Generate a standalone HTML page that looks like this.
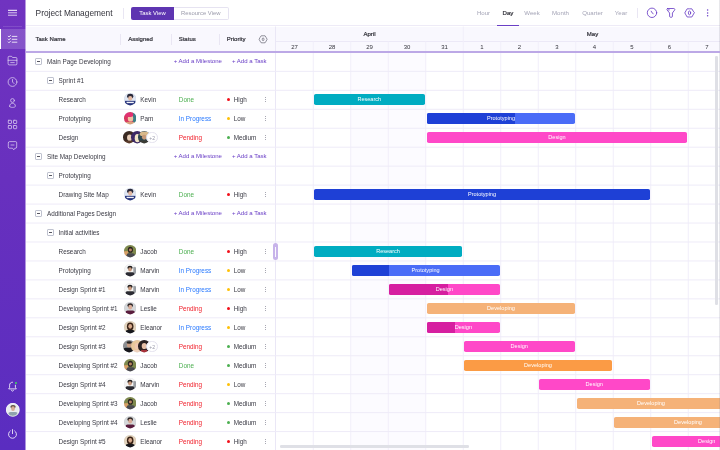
<!DOCTYPE html>
<html lang="en"><head><meta charset="utf-8"><title>Project Management</title>
<style>
*{box-sizing:border-box;margin:0;padding:0}
html,body{width:720px;height:450px;overflow:hidden;background:#fff}
body{font-family:"Liberation Sans",sans-serif;color:#3a3a44;position:relative;font-size:6.35px;line-height:1}
.abs{position:absolute}
#side{position:absolute;left:0;top:0;width:26px;height:450px;background:linear-gradient(90deg,rgba(255,255,255,0) 25px,rgba(255,255,255,.5) 25px),linear-gradient(180deg,#7033c0 0%,#6830be 40%,#5a2dc0 100%)}
#side .act{position:absolute;left:0;top:29.4px;width:26px;height:20px;background:linear-gradient(90deg,#fff 1.2px,rgba(255,255,255,.16) 1.2px)}
#top{position:absolute;left:25.5px;top:0;width:694.5px;height:26px;background:#fff;border-bottom:1px solid #eeebf7}
#title{position:absolute;left:35.6px;top:8.7px;font-size:8.35px;color:#34343c;white-space:nowrap}
.vdiv{position:absolute;width:1px;background:#e9e6f3}
#tv{position:absolute;left:131px;top:6.5px;width:43px;height:13px;background:#5e35b1;color:#fff;border-radius:2px 0 0 2px;font-size:5.9px;text-align:center;line-height:13px}
#rv{position:absolute;left:174px;top:6.5px;width:54.5px;height:13px;background:#fff;color:#9b9bab;border:1px solid #e6e3f1;border-left:none;border-radius:0 2px 2px 0;font-size:5.9px;text-align:center;line-height:11.5px}
.zoom{position:absolute;top:10px;font-size:6.1px;color:#a4a4b6;white-space:nowrap;transform:translateX(-50%)}
.zoom.on{color:#34343c;-webkit-text-stroke:.22px #34343c}
#dayline{position:absolute;left:497.2px;top:24.7px;width:21.6px;height:1.8px;background:#6a3fc6}
#thead{position:absolute;left:25.5px;top:26.5px;width:694.5px;height:24.5px;background:#f9f8fe}
#pline{position:absolute;left:25.5px;top:51px;width:694.5px;height:2px;background:#bca8e6}
.th{position:absolute;top:35.8px;font-weight:400;font-size:6.02px;color:#34343c;white-space:nowrap;-webkit-text-stroke:.22px #34343c}
.row{position:absolute;left:25.5px;width:250px;height:19px}
.grow{display:none}
.tx{position:absolute;white-space:nowrap;top:7.1px}
.box{position:absolute;width:7px;height:6.6px;border:.8px solid #bfc2cf;border-radius:1px;top:6.2px;background:#fff}
.box:after{content:"";position:absolute;left:1.1px;right:1.1px;top:2.1px;height:.75px;background:#55555f}
.add{position:absolute;top:6.4px;font-size:6.05px;color:#6a3fc6;white-space:nowrap}
.av{position:absolute}
.done{color:#4caf50}.prog{color:#2979ff}.pend{color:#f0202b}
.dot{position:absolute;top:8px;width:3px;height:3px;border-radius:50%}
.ph{background:#f2101a}.pl{background:#ffc107}.pm{background:#4caf50}
.keb{position:absolute;top:7.1px;width:1px;height:6px}
.keb i{position:absolute;left:0;width:1.2px;height:1.2px;border-radius:50%;background:#8c8c9a}
.plus{position:absolute;width:11.8px;height:11.8px;border-radius:50%;background:#fff;border:.6px solid #e4e2ee;color:#9a9aaa;font-size:5.2px;text-align:center;line-height:10.8px}
.vl{position:absolute;top:26.5px;width:1px;height:424px;background:#ece9f7}
.bar{position:absolute;height:11px;border-radius:1.8px;overflow:hidden;color:#fff;font-size:5.55px;text-align:center;line-height:11.6px;white-space:nowrap}
.bar .pg{position:absolute;left:0;top:0;bottom:0}
.bar span{position:relative}
.teal{background:#00acc1}.blue{background:#4a6cf7}.blue .pg{background:#1e40d6}.bluedark{background:#1e40d6}
.pink{background:#ff48c8}.pink .pg{background:#d61fa0}.orange{background:#f5b278}.orange2{background:#fb9b45}
.mon{position:absolute;top:31px;font-weight:400;font-size:6.02px;color:#34343c;transform:translateX(-50%);-webkit-text-stroke:.22px #34343c}
.day{position:absolute;top:43.6px;font-size:6px;color:#34343c;transform:translateX(-50%)}
</style></head><body>

<svg width="0" height="0" style="position:absolute"><defs><clipPath id="cc"><circle cx="6" cy="6" r="6"/></clipPath><filter id="bl" x="-20%" y="-20%" width="140%" height="140%"><feGaussianBlur stdDeviation="0.45"/></filter></defs></svg>
<div id="side"><div class="act"></div><div class="abs" style="left:3px;top:26px;width:19px;height:1px;background:rgba(255,255,255,.13)"></div>
<svg class="abs" style="left:0;top:0" width="26" height="450" viewBox="0 0 26 450" fill="none" stroke="#fff" stroke-width="0.8" stroke-linecap="round" stroke-linejoin="round">
<g stroke-width="1" stroke-linecap="butt"><path d="M8 10.3h9"/><path d="M8 12.8h9M8 15.2h9" opacity=".75"/></g>
<g><path d="M8.2 36.2l.8.8 1.5-1.6M8.2 39.1l.8.8 1.5-1.6M8.2 42l.8.8 1.5-1.6M12.2 36.4h4.7M12.2 39.3h4.7M12.2 42.2h4.7"/></g>
<g opacity=".72"><path d="M8.1 57.3a1 1 0 0 1 1-1h2.5l1 1.2H15.9a1 1 0 0 1 1 1v5.4a1 1 0 0 1-1 1H9.1a1 1 0 0 1-1-1zM8.1 60.3h8.8M10.7 62.6h3.6"/></g>
<g opacity=".72"><circle cx="12.5" cy="82" r="4.4"/><path d="M12.5 79.5V82l1.6 1.6"/></g>
<g opacity=".72"><circle cx="12.5" cy="100.5" r="1.9"/><path d="M9.6 106.2c0-1.9 1.3-2.9 2.9-2.9s2.9 1 2.9 2.9c0 .8-1.3 1.2-2.9 1.2s-2.9-.4-2.9-1.2z"/></g>
<g opacity=".72"><rect x="8.3" y="120.3" width="3.2" height="3.2" rx=".5"/><rect x="13.5" y="120.3" width="3.2" height="3.2" rx=".5"/><rect x="8.3" y="125.5" width="3.2" height="3.2" rx=".5"/><rect x="13.5" y="125.5" width="3.2" height="3.2" rx=".5"/></g>
<g opacity=".72"><path d="M8.3 142.8a1.2 1.2 0 0 1 1.2-1.2h6a1.2 1.2 0 0 1 1.2 1.2v4.2a1.2 1.2 0 0 1-1.2 1.2h-.6l-1.1 1.6-1.3-1.6H9.5a1.2 1.2 0 0 1-1.2-1.2zM11 145h3"/></g>
<g><path d="M12.5 382.2c-1.8 0-2.9 1.3-2.9 3v2.2l-.9 1.5h7.6l-.9-1.5v-2.2M11.4 390.2c.2.6.6.9 1.1.9s.9-.3 1.1-.9"/></g>
<g><path d="M12.5 429.6v4M10.3 430.9a4 4 0 1 0 4.4 0"/></g>
</svg>
<div class="abs" style="left:14.6px;top:382.2px;width:2.2px;height:2.2px;border-radius:50%;background:#3ddc5a"></div>
<svg class="abs" style="left:6.2px;top:403.3px" width="13.6" height="13.6" viewBox="0 0 12 12"><g clip-path="url(#cc)"><rect width="12" height="12" fill="#e9ecef"/><ellipse cx="6.2" cy="3.4" rx="2.3" ry="1.7" fill="#5b4a40"/><ellipse cx="6.2" cy="5" rx="1.7" ry="2.1" fill="#d8ae96"/><rect x="2" y="8" width="8.4" height="10" rx="2" fill="#8fa3ad"/></g><circle cx="6" cy="6" r="5.7" fill="none" stroke="#fff" stroke-width=".6"/></svg>
</div>
<div id="top"></div>
<div id="title">Project Management</div>
<div class="vdiv" style="left:122.5px;top:7.5px;height:11px"></div>
<div id="tv">Task View</div><div id="rv">Resource View</div>
<div class="zoom" style="left:483.5px">Hour</div>
<div class="zoom on" style="left:508px">Day</div>
<div class="zoom" style="left:532px">Week</div>
<div class="zoom" style="left:560.5px">Month</div>
<div class="zoom" style="left:592.5px">Quarter</div>
<div class="zoom" style="left:621px">Year</div>
<div id="dayline"></div>
<div class="vdiv" style="left:637px;top:7.5px;height:10.5px"></div>
<svg class="abs" style="left:640px;top:4px" width="80" height="18" viewBox="640 4 80 18" fill="none" stroke="#6a3fc6" stroke-width="0.85" stroke-linecap="round" stroke-linejoin="round">
<circle cx="652" cy="12.8" r="4.7"/><path d="M651.2 11.2L652 12.8L653.2 13.6"/>
<path d="M667.6 8.5h6.2c.9 0 1.3.9.8 1.6l-2.2 2.9v3.3c0 .7-.5 1-1.1 1h-.6c-.6 0-1.1-.4-1.1-1V13l-2.4-2.9c-.6-.7-.3-1.6.4-1.6zM668.3 9.9h1"/>
<path d="M694.20 12.90 L693.05 14.95 L691.85 16.97 L689.50 17.00 L687.15 16.97 L685.95 14.95 L684.80 12.90 L685.95 10.85 L687.15 8.83 L689.50 8.80 L691.85 8.83 L693.05 10.85z"/><ellipse cx="689.5" cy="12.9" rx="1.15" ry="1.9"/>
<g fill="#6a3fc6" stroke="none"><circle cx="707.6" cy="10" r=".75"/><circle cx="707.6" cy="12.9" r=".75"/><circle cx="707.6" cy="15.8" r=".75"/></g>
</svg>
<div id="thead"></div>
<div class="th" style="left:35.5px">Task Name</div>
<div class="th" style="left:128.2px">Assigned</div>
<div class="th" style="left:178.7px">Status</div>
<div class="th" style="left:226.7px">Priority</div>
<div class="vdiv" style="left:120.3px;top:33.8px;height:11.5px"></div>
<div class="vdiv" style="left:170.8px;top:33.8px;height:11.5px"></div>
<div class="vdiv" style="left:219px;top:33.8px;height:11.5px"></div>
<svg class="abs" style="left:258px;top:34px" width="10" height="10" viewBox="0 0 10 10" fill="none" stroke="#6d6d7a" stroke-width=".75" stroke-linejoin="round"><path d="M9.10 5.30 L8.17 7.07 L7.10 8.76 L5.10 8.85 L3.10 8.76 L2.03 7.07 L1.10 5.30 L2.03 3.52 L3.10 1.84 L5.10 1.75 L7.10 1.84 L8.17 3.52z"/><ellipse cx="5.1" cy="5.3" rx=".9" ry="1.4"/></svg>
<div class="abs" style="left:275.5px;top:41px;width:444.5px;height:1px;background:#ece9f7"></div>
<div class="mon" style="left:369.5px">April</div><div class="mon" style="left:592.5px">May</div>
<div class="day" style="left:294.50px">27</div>
<div class="day" style="left:332.00px">28</div>
<div class="day" style="left:369.50px">29</div>
<div class="day" style="left:407.00px">30</div>
<div class="day" style="left:444.50px">31</div>
<div class="day" style="left:482.00px">1</div>
<div class="day" style="left:519.50px">2</div>
<div class="day" style="left:557.00px">3</div>
<div class="day" style="left:594.50px">4</div>
<div class="day" style="left:632.00px">5</div>
<div class="day" style="left:669.50px">6</div>
<div class="day" style="left:707.00px">7</div>
<div class="abs" style="left:350.5px;top:53px;width:75px;height:397px;background:#fcfbff"></div>
<svg class="abs" style="left:0;top:0" width="720" height="450" viewBox="0 0 720 450"><rect x="275" y="26.5" width="1" height="424" fill="#eae7f6"/><rect x="312.75" y="41.5" width="1" height="409" fill="#f1eefa"/><rect x="350.25" y="41.5" width="1" height="409" fill="#f1eefa"/><rect x="387.75" y="41.5" width="1" height="409" fill="#f1eefa"/><rect x="425.25" y="41.5" width="1" height="409" fill="#f1eefa"/><rect x="462.75" y="26.5" width="1" height="424" fill="#f1eefa"/><rect x="500.25" y="41.5" width="1" height="409" fill="#f1eefa"/><rect x="537.75" y="41.5" width="1" height="409" fill="#f1eefa"/><rect x="575.25" y="41.5" width="1" height="409" fill="#f1eefa"/><rect x="612.75" y="41.5" width="1" height="409" fill="#f1eefa"/><rect x="650.25" y="41.5" width="1" height="409" fill="#f1eefa"/><rect x="687.75" y="41.5" width="1" height="409" fill="#f1eefa"/><rect x="725.25" y="41.5" width="1" height="409" fill="#f1eefa"/><rect x="26" y="70.85" width="694" height="1" fill="#eeebf8"/><rect x="26" y="89.81" width="694" height="1" fill="#eeebf8"/><rect x="26" y="108.77" width="694" height="1" fill="#eeebf8"/><rect x="26" y="127.73" width="694" height="1" fill="#eeebf8"/><rect x="26" y="146.69" width="694" height="1" fill="#eeebf8"/><rect x="26" y="165.65" width="694" height="1" fill="#eeebf8"/><rect x="26" y="184.61" width="694" height="1" fill="#eeebf8"/><rect x="26" y="203.57" width="694" height="1" fill="#eeebf8"/><rect x="26" y="222.53" width="694" height="1" fill="#eeebf8"/><rect x="26" y="241.49" width="694" height="1" fill="#eeebf8"/><rect x="26" y="260.45" width="694" height="1" fill="#eeebf8"/><rect x="26" y="279.41" width="694" height="1" fill="#eeebf8"/><rect x="26" y="298.37" width="694" height="1" fill="#eeebf8"/><rect x="26" y="317.33" width="694" height="1" fill="#eeebf8"/><rect x="26" y="336.29" width="694" height="1" fill="#eeebf8"/><rect x="26" y="355.25" width="694" height="1" fill="#eeebf8"/><rect x="26" y="374.21" width="694" height="1" fill="#eeebf8"/><rect x="26" y="393.17" width="694" height="1" fill="#eeebf8"/><rect x="26" y="412.13" width="694" height="1" fill="#eeebf8"/><rect x="26" y="431.09" width="694" height="1" fill="#eeebf8"/></svg>
<div class="row" style="top:52px">
<div class="box" style="left:9.5px"></div><div class="tx" style="left:21.5px">Main Page Developing</div>
<div class="add" style="left:148.2px">+ Add a Milestone</div><div class="add" style="left:206.4px">+ Add a Task</div>
</div>
<div class="row" style="top:71px">
<div class="box" style="left:21.3px"></div><div class="tx" style="left:33.1px">Sprint #1</div>
</div>
<div class="row" style="top:90px">
<div class="tx" style="left:33.1px">Research</div>
<svg class="av" style="left:98.0px;top:3.3px" width="12.4" height="12.4" viewBox="0 0 12 12"><g clip-path="url(#cc)"><g filter="url(#bl)"><rect x="-4" y="-4" width="20" height="20" fill="#dfe6f3"/><ellipse cx="6" cy="3.2" rx="3" ry="2.4" fill="#2b2a3a"/><ellipse cx="6" cy="5.2" rx="2" ry="2.3" fill="#e3b9a3"/><rect x="1" y="7.6" width="10" height="10" fill="#27347c"/><rect x="2.5" y="8.5" width="7" height="1.3" fill="#f1f3fa"/></g></g><circle cx="6" cy="6" r="5.85" fill="none" stroke="rgba(60,60,90,.13)" stroke-width=".3"/></svg>
<div class="tx" style="left:114.8px">Kevin</div>
<div class="tx done" style="left:153.3px">Done</div>
<div class="dot ph" style="left:201.0px"></div><div class="tx" style="left:208.2px">High</div>
<div class="keb" style="left:239.8px"><i style="top:0"></i><i style="top:1.9px"></i><i style="top:3.8px"></i></div>
</div>
<div class="row" style="top:109px">
<div class="tx" style="left:33.1px">Prototyping</div>
<svg class="av" style="left:98.0px;top:3.3px" width="12.4" height="12.4" viewBox="0 0 12 12"><g clip-path="url(#cc)"><g filter="url(#bl)"><rect x="-4" y="-4" width="20" height="20" fill="#d8395f"/><rect x="8.5" width="4" height="12" fill="#3a7f86"/><ellipse cx="6.3" cy="6.2" rx="2.6" ry="3.1" fill="#f0c3a4"/><ellipse cx="5" cy="2.6" rx="4" ry="2.2" fill="#e23372"/><rect x="2" y="9.6" width="8" height="10" fill="#d9a27c"/></g></g><circle cx="6" cy="6" r="5.85" fill="none" stroke="rgba(60,60,90,.13)" stroke-width=".3"/></svg>
<div class="tx" style="left:114.8px">Pam</div>
<div class="tx prog" style="left:153.3px">In Progress</div>
<div class="dot pl" style="left:201.0px"></div><div class="tx" style="left:208.2px">Low</div>
<div class="keb" style="left:239.8px"><i style="top:0"></i><i style="top:1.9px"></i><i style="top:3.8px"></i></div>
</div>
<div class="row" style="top:128px">
<div class="tx" style="left:33.1px">Design</div>
<svg class="av" style="left:97.8px;top:3.3px" width="12.4" height="12.4" viewBox="0 0 12 12"><g clip-path="url(#cc)"><g filter="url(#bl)"><rect x="-4" y="-4" width="20" height="20" fill="#3a2a22"/><ellipse cx="6.5" cy="6.5" rx="2.6" ry="3" fill="#e8cdb8"/><rect x="0" y="9.5" width="12" height="10" fill="#5a3b2c"/></g></g><circle cx="6" cy="6" r="5.85" fill="none" stroke="rgba(60,60,90,.13)" stroke-width=".3"/></svg>
<svg class="av" style="left:105.19999999999999px;top:3.3px" width="12.4" height="12.4" viewBox="0 0 12 12"><g clip-path="url(#cc)"><g filter="url(#bl)"><rect x="-4" y="-4" width="20" height="20" fill="#3c2a66"/><ellipse cx="6.2" cy="7" rx="2.6" ry="4" fill="#f3e6c8"/></g></g><circle cx="6" cy="6" r="5.85" fill="none" stroke="rgba(60,60,90,.13)" stroke-width=".3"/></svg>
<svg class="av" style="left:112.6px;top:3.3px" width="12.4" height="12.4" viewBox="0 0 12 12"><g clip-path="url(#cc)"><g filter="url(#bl)"><rect x="-4" y="-4" width="20" height="20" fill="#2e4a52"/><ellipse cx="6" cy="3" rx="4.5" ry="2.4" fill="#d8b98a"/><ellipse cx="6" cy="6" rx="2.2" ry="2.4" fill="#c79a78"/><rect x="1" y="9" width="10" height="10" fill="#3b3a36"/></g></g><circle cx="6" cy="6" r="5.85" fill="none" stroke="rgba(60,60,90,.13)" stroke-width=".3"/></svg>
<div class="plus" style="left:120.8px;top:3.6px">+2</div>
<div class="tx pend" style="left:153.3px">Pending</div>
<div class="dot pm" style="left:201.0px"></div><div class="tx" style="left:208.2px">Medium</div>
<div class="keb" style="left:239.8px"><i style="top:0"></i><i style="top:1.9px"></i><i style="top:3.8px"></i></div>
</div>
<div class="row" style="top:147px">
<div class="box" style="left:9.5px"></div><div class="tx" style="left:21.5px">Site Map Developing</div>
<div class="add" style="left:148.2px">+ Add a Milestone</div><div class="add" style="left:206.4px">+ Add a Task</div>
</div>
<div class="row" style="top:166px">
<div class="box" style="left:21.3px"></div><div class="tx" style="left:33.1px">Prototyping</div>
</div>
<div class="row" style="top:185px">
<div class="tx" style="left:33.1px">Drawing Site Map</div>
<svg class="av" style="left:98.0px;top:3.3px" width="12.4" height="12.4" viewBox="0 0 12 12"><g clip-path="url(#cc)"><g filter="url(#bl)"><rect x="-4" y="-4" width="20" height="20" fill="#dfe6f3"/><ellipse cx="6" cy="3.2" rx="3" ry="2.4" fill="#2b2a3a"/><ellipse cx="6" cy="5.2" rx="2" ry="2.3" fill="#e3b9a3"/><rect x="1" y="7.6" width="10" height="10" fill="#27347c"/><rect x="2.5" y="8.5" width="7" height="1.3" fill="#f1f3fa"/></g></g><circle cx="6" cy="6" r="5.85" fill="none" stroke="rgba(60,60,90,.13)" stroke-width=".3"/></svg>
<div class="tx" style="left:114.8px">Kevin</div>
<div class="tx done" style="left:153.3px">Done</div>
<div class="dot ph" style="left:201.0px"></div><div class="tx" style="left:208.2px">High</div>
<div class="keb" style="left:239.8px"><i style="top:0"></i><i style="top:1.9px"></i><i style="top:3.8px"></i></div>
</div>
<div class="row" style="top:204px">
<div class="box" style="left:9.5px"></div><div class="tx" style="left:21.5px">Additional Pages Design</div>
<div class="add" style="left:148.2px">+ Add a Milestone</div><div class="add" style="left:206.4px">+ Add a Task</div>
</div>
<div class="row" style="top:223px">
<div class="box" style="left:21.3px"></div><div class="tx" style="left:33.1px">Initial activities</div>
</div>
<div class="row" style="top:242px">
<div class="tx" style="left:33.1px">Research</div>
<svg class="av" style="left:98.0px;top:3.3px" width="12.4" height="12.4" viewBox="0 0 12 12"><g clip-path="url(#cc)"><g filter="url(#bl)"><rect x="-4" y="-4" width="20" height="20" fill="#7f8a4e"/><rect y="6" width="4" height="6" fill="#d9a066"/><ellipse cx="6.2" cy="4.6" rx="2.5" ry="3" fill="#2a231f"/><ellipse cx="6.2" cy="4.8" rx="1.5" ry="1.4" fill="#b98565"/><rect x="2.5" y="8" width="8" height="10" rx="2" fill="#4a4a4f"/></g></g><circle cx="6" cy="6" r="5.85" fill="none" stroke="rgba(60,60,90,.13)" stroke-width=".3"/></svg>
<div class="tx" style="left:114.8px">Jacob</div>
<div class="tx done" style="left:153.3px">Done</div>
<div class="dot ph" style="left:201.0px"></div><div class="tx" style="left:208.2px">High</div>
<div class="keb" style="left:239.8px"><i style="top:0"></i><i style="top:1.9px"></i><i style="top:3.8px"></i></div>
</div>
<div class="row" style="top:261px">
<div class="tx" style="left:33.1px">Prototyping</div>
<svg class="av" style="left:98.0px;top:3.3px" width="12.4" height="12.4" viewBox="0 0 12 12"><g clip-path="url(#cc)"><g filter="url(#bl)"><rect x="-4" y="-4" width="20" height="20" fill="#f4f4f4"/><rect x="9" y="3" width="3" height="9" fill="#9a9ea3"/><ellipse cx="5.8" cy="3.6" rx="2.5" ry="2" fill="#1f1d1d"/><ellipse cx="5.8" cy="5.2" rx="1.8" ry="2.1" fill="#c99b80"/><rect x="1.5" y="8" width="8.5" height="10" rx="1.5" fill="#2a2b30"/></g></g><circle cx="6" cy="6" r="5.85" fill="none" stroke="rgba(60,60,90,.13)" stroke-width=".3"/></svg>
<div class="tx" style="left:114.8px">Marvin</div>
<div class="tx prog" style="left:153.3px">In Progress</div>
<div class="dot pl" style="left:201.0px"></div><div class="tx" style="left:208.2px">Low</div>
<div class="keb" style="left:239.8px"><i style="top:0"></i><i style="top:1.9px"></i><i style="top:3.8px"></i></div>
</div>
<div class="row" style="top:280px">
<div class="tx" style="left:33.1px">Design Sprint #1</div>
<svg class="av" style="left:98.0px;top:3.3px" width="12.4" height="12.4" viewBox="0 0 12 12"><g clip-path="url(#cc)"><g filter="url(#bl)"><rect x="-4" y="-4" width="20" height="20" fill="#f4f4f4"/><rect x="9" y="3" width="3" height="9" fill="#9a9ea3"/><ellipse cx="5.8" cy="3.6" rx="2.5" ry="2" fill="#1f1d1d"/><ellipse cx="5.8" cy="5.2" rx="1.8" ry="2.1" fill="#c99b80"/><rect x="1.5" y="8" width="8.5" height="10" rx="1.5" fill="#2a2b30"/></g></g><circle cx="6" cy="6" r="5.85" fill="none" stroke="rgba(60,60,90,.13)" stroke-width=".3"/></svg>
<div class="tx" style="left:114.8px">Marvin</div>
<div class="tx prog" style="left:153.3px">In Progress</div>
<div class="dot pl" style="left:201.0px"></div><div class="tx" style="left:208.2px">Low</div>
<div class="keb" style="left:239.8px"><i style="top:0"></i><i style="top:1.9px"></i><i style="top:3.8px"></i></div>
</div>
<div class="row" style="top:299px">
<div class="tx" style="left:33.1px">Developing Sprint #1</div>
<svg class="av" style="left:98.0px;top:3.3px" width="12.4" height="12.4" viewBox="0 0 12 12"><g clip-path="url(#cc)"><g filter="url(#bl)"><rect x="-4" y="-4" width="20" height="20" fill="#d5d8da"/><ellipse cx="6" cy="3.2" rx="2.6" ry="2.1" fill="#2a2424"/><ellipse cx="6" cy="5" rx="1.9" ry="2.3" fill="#d9ad98"/><rect x="1.5" y="8.2" width="9" height="10" rx="2" fill="#5a1f3c"/></g></g><circle cx="6" cy="6" r="5.85" fill="none" stroke="rgba(60,60,90,.13)" stroke-width=".3"/></svg>
<div class="tx" style="left:114.8px">Leslie</div>
<div class="tx pend" style="left:153.3px">Pending</div>
<div class="dot ph" style="left:201.0px"></div><div class="tx" style="left:208.2px">High</div>
<div class="keb" style="left:239.8px"><i style="top:0"></i><i style="top:1.9px"></i><i style="top:3.8px"></i></div>
</div>
<div class="row" style="top:318px">
<div class="tx" style="left:33.1px">Design Sprint #2</div>
<svg class="av" style="left:98.0px;top:3.3px" width="12.4" height="12.4" viewBox="0 0 12 12"><g clip-path="url(#cc)"><g filter="url(#bl)"><rect x="-4" y="-4" width="20" height="20" fill="#e2d3bd"/><ellipse cx="6" cy="5.4" rx="3.2" ry="4" fill="#3a2418"/><ellipse cx="6" cy="5.2" rx="1.8" ry="2.2" fill="#d7a98c"/><rect x="1.5" y="8.8" width="9" height="10" rx="2" fill="#17171a"/></g></g><circle cx="6" cy="6" r="5.85" fill="none" stroke="rgba(60,60,90,.13)" stroke-width=".3"/></svg>
<div class="tx" style="left:114.8px">Eleanor</div>
<div class="tx prog" style="left:153.3px">In Progress</div>
<div class="dot pl" style="left:201.0px"></div><div class="tx" style="left:208.2px">Low</div>
<div class="keb" style="left:239.8px"><i style="top:0"></i><i style="top:1.9px"></i><i style="top:3.8px"></i></div>
</div>
<div class="row" style="top:337px">
<div class="tx" style="left:33.1px">Design Sprint #3</div>
<svg class="av" style="left:97.8px;top:3.3px" width="12.4" height="12.4" viewBox="0 0 12 12"><g clip-path="url(#cc)"><g filter="url(#bl)"><rect x="-4" y="-4" width="20" height="20" fill="#8d8f92"/><ellipse cx="6" cy="4.6" rx="2.3" ry="2.8" fill="#c79c83"/><rect x="0.5" y="7.6" width="11" height="10" rx="2" fill="#17181b"/><ellipse cx="6" cy="2.4" rx="2.5" ry="1.3" fill="#2a2522"/></g></g><circle cx="6" cy="6" r="5.85" fill="none" stroke="rgba(60,60,90,.13)" stroke-width=".3"/></svg>
<svg class="av" style="left:105.19999999999999px;top:3.3px" width="12.4" height="12.4" viewBox="0 0 12 12"><g clip-path="url(#cc)"><g filter="url(#bl)"><rect x="-4" y="-4" width="20" height="20" fill="#e8c89a"/><ellipse cx="6" cy="6" rx="2.4" ry="3.2" fill="#f0c9ae"/><rect x="2" y="9.6" width="8" height="10" fill="#efd2bd"/></g></g><circle cx="6" cy="6" r="5.85" fill="none" stroke="rgba(60,60,90,.13)" stroke-width=".3"/></svg>
<svg class="av" style="left:112.6px;top:3.3px" width="12.4" height="12.4" viewBox="0 0 12 12"><g clip-path="url(#cc)"><g filter="url(#bl)"><rect x="-4" y="-4" width="20" height="20" fill="#2b2322"/><ellipse cx="6" cy="5.8" rx="2.4" ry="3" fill="#e6bfa6"/><rect x="3" y="9.6" width="6" height="10" fill="#a8323a"/></g></g><circle cx="6" cy="6" r="5.85" fill="none" stroke="rgba(60,60,90,.13)" stroke-width=".3"/></svg>
<div class="plus" style="left:120.8px;top:3.6px">+2</div>
<div class="tx pend" style="left:153.3px">Pending</div>
<div class="dot pm" style="left:201.0px"></div><div class="tx" style="left:208.2px">Medium</div>
<div class="keb" style="left:239.8px"><i style="top:0"></i><i style="top:1.9px"></i><i style="top:3.8px"></i></div>
</div>
<div class="row" style="top:356px">
<div class="tx" style="left:33.1px">Developing Sprint #2</div>
<svg class="av" style="left:98.0px;top:3.3px" width="12.4" height="12.4" viewBox="0 0 12 12"><g clip-path="url(#cc)"><g filter="url(#bl)"><rect x="-4" y="-4" width="20" height="20" fill="#7f8a4e"/><rect y="6" width="4" height="6" fill="#d9a066"/><ellipse cx="6.2" cy="4.6" rx="2.5" ry="3" fill="#2a231f"/><ellipse cx="6.2" cy="4.8" rx="1.5" ry="1.4" fill="#b98565"/><rect x="2.5" y="8" width="8" height="10" rx="2" fill="#4a4a4f"/></g></g><circle cx="6" cy="6" r="5.85" fill="none" stroke="rgba(60,60,90,.13)" stroke-width=".3"/></svg>
<div class="tx" style="left:114.8px">Jacob</div>
<div class="tx done" style="left:153.3px">Done</div>
<div class="dot pm" style="left:201.0px"></div><div class="tx" style="left:208.2px">Medium</div>
<div class="keb" style="left:239.8px"><i style="top:0"></i><i style="top:1.9px"></i><i style="top:3.8px"></i></div>
</div>
<div class="row" style="top:375px">
<div class="tx" style="left:33.1px">Design Sprint #4</div>
<svg class="av" style="left:98.0px;top:3.3px" width="12.4" height="12.4" viewBox="0 0 12 12"><g clip-path="url(#cc)"><g filter="url(#bl)"><rect x="-4" y="-4" width="20" height="20" fill="#f4f4f4"/><rect x="9" y="3" width="3" height="9" fill="#9a9ea3"/><ellipse cx="5.8" cy="3.6" rx="2.5" ry="2" fill="#1f1d1d"/><ellipse cx="5.8" cy="5.2" rx="1.8" ry="2.1" fill="#c99b80"/><rect x="1.5" y="8" width="8.5" height="10" rx="1.5" fill="#2a2b30"/></g></g><circle cx="6" cy="6" r="5.85" fill="none" stroke="rgba(60,60,90,.13)" stroke-width=".3"/></svg>
<div class="tx" style="left:114.8px">Marvin</div>
<div class="tx pend" style="left:153.3px">Pending</div>
<div class="dot pl" style="left:201.0px"></div><div class="tx" style="left:208.2px">Low</div>
<div class="keb" style="left:239.8px"><i style="top:0"></i><i style="top:1.9px"></i><i style="top:3.8px"></i></div>
</div>
<div class="row" style="top:394px">
<div class="tx" style="left:33.1px">Developing Sprint #3</div>
<svg class="av" style="left:98.0px;top:3.3px" width="12.4" height="12.4" viewBox="0 0 12 12"><g clip-path="url(#cc)"><g filter="url(#bl)"><rect x="-4" y="-4" width="20" height="20" fill="#7f8a4e"/><rect y="6" width="4" height="6" fill="#d9a066"/><ellipse cx="6.2" cy="4.6" rx="2.5" ry="3" fill="#2a231f"/><ellipse cx="6.2" cy="4.8" rx="1.5" ry="1.4" fill="#b98565"/><rect x="2.5" y="8" width="8" height="10" rx="2" fill="#4a4a4f"/></g></g><circle cx="6" cy="6" r="5.85" fill="none" stroke="rgba(60,60,90,.13)" stroke-width=".3"/></svg>
<div class="tx" style="left:114.8px">Jacob</div>
<div class="tx pend" style="left:153.3px">Pending</div>
<div class="dot pm" style="left:201.0px"></div><div class="tx" style="left:208.2px">Medium</div>
<div class="keb" style="left:239.8px"><i style="top:0"></i><i style="top:1.9px"></i><i style="top:3.8px"></i></div>
</div>
<div class="row" style="top:413px">
<div class="tx" style="left:33.1px">Developing Sprint #4</div>
<svg class="av" style="left:98.0px;top:3.3px" width="12.4" height="12.4" viewBox="0 0 12 12"><g clip-path="url(#cc)"><g filter="url(#bl)"><rect x="-4" y="-4" width="20" height="20" fill="#d5d8da"/><ellipse cx="6" cy="3.2" rx="2.6" ry="2.1" fill="#2a2424"/><ellipse cx="6" cy="5" rx="1.9" ry="2.3" fill="#d9ad98"/><rect x="1.5" y="8.2" width="9" height="10" rx="2" fill="#5a1f3c"/></g></g><circle cx="6" cy="6" r="5.85" fill="none" stroke="rgba(60,60,90,.13)" stroke-width=".3"/></svg>
<div class="tx" style="left:114.8px">Leslie</div>
<div class="tx pend" style="left:153.3px">Pending</div>
<div class="dot pm" style="left:201.0px"></div><div class="tx" style="left:208.2px">Medium</div>
<div class="keb" style="left:239.8px"><i style="top:0"></i><i style="top:1.9px"></i><i style="top:3.8px"></i></div>
</div>
<div class="row" style="top:432px">
<div class="tx" style="left:33.1px">Design Sprint #5</div>
<svg class="av" style="left:98.0px;top:3.3px" width="12.4" height="12.4" viewBox="0 0 12 12"><g clip-path="url(#cc)"><g filter="url(#bl)"><rect x="-4" y="-4" width="20" height="20" fill="#e2d3bd"/><ellipse cx="6" cy="5.4" rx="3.2" ry="4" fill="#3a2418"/><ellipse cx="6" cy="5.2" rx="1.8" ry="2.2" fill="#d7a98c"/><rect x="1.5" y="8.8" width="9" height="10" rx="2" fill="#17171a"/></g></g><circle cx="6" cy="6" r="5.85" fill="none" stroke="rgba(60,60,90,.13)" stroke-width=".3"/></svg>
<div class="tx" style="left:114.8px">Eleanor</div>
<div class="tx pend" style="left:153.3px">Pending</div>
<div class="dot ph" style="left:201.0px"></div><div class="tx" style="left:208.2px">High</div>
<div class="keb" style="left:239.8px"><i style="top:0"></i><i style="top:1.9px"></i><i style="top:3.8px"></i></div>
</div>
<div class="bar teal" style="left:314px;top:94px;width:110.5px"><span>Research</span></div>
<div class="bar blue" style="left:427px;top:113px;width:148.0px"><div class="pg" style="width:88.0px"></div><span>Prototyping</span></div>
<div class="bar pink" style="left:427px;top:132px;width:260.0px"><span>Design</span></div>
<div class="bar bluedark" style="left:314px;top:189px;width:336.0px"><span>Prototyping</span></div>
<div class="bar teal" style="left:314px;top:246px;width:148.0px"><span>Research</span></div>
<div class="bar blue" style="left:351.5px;top:265px;width:148.2px"><div class="pg" style="width:37.5px"></div><span>Prototyping</span></div>
<div class="bar pink" style="left:389px;top:284px;width:110.7px"><div class="pg" style="width:59.0px"></div><span>Design</span></div>
<div class="bar orange" style="left:427px;top:303px;width:148.0px"><span>Developing</span></div>
<div class="bar pink" style="left:427px;top:322px;width:72.7px"><div class="pg" style="width:27.5px"></div><span>Design</span></div>
<div class="bar pink" style="left:464px;top:341px;width:110.5px"><span>Design</span></div>
<div class="bar orange2" style="left:464px;top:360px;width:148.0px"><span>Developing</span></div>
<div class="bar pink" style="left:539px;top:379px;width:110.5px"><span>Design</span></div>
<div class="bar orange" style="left:577px;top:398px;width:148.0px"><span>Developing</span></div>
<div class="bar orange" style="left:614px;top:417px;width:148.0px"><span>Developing</span></div>
<div class="bar pink" style="left:651.5px;top:436px;width:110.5px"><span>Design</span></div>
<div class="abs" style="left:272.7px;top:243.2px;width:5.4px;height:16.4px;border-radius:2.7px;background:#c7b3ea"></div><div class="abs" style="left:275.1px;top:246.5px;width:.7px;height:10px;background:rgba(255,255,255,.9)"></div>
<div class="abs" style="left:715px;top:56px;width:2.6px;height:249px;border-radius:1.3px;background:#dfe0e6"></div>
<div class="abs" style="left:279.6px;top:445px;width:189.2px;height:2.8px;border-radius:1.3px;background:#dfe0e6"></div>
<div class="abs" style="left:718.5px;top:0;width:1.5px;height:450px;background:linear-gradient(90deg,rgba(120,120,140,0),rgba(120,120,140,.35))"></div>
<div id="pline"></div>
</body></html>
